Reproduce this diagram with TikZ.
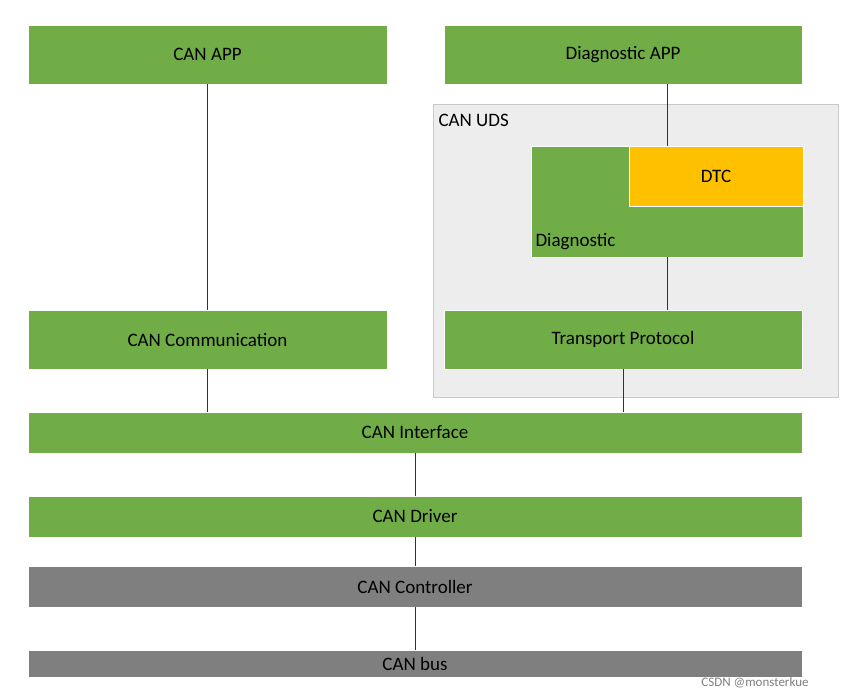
\documentclass[tikz,border=0pt]{standalone}
\usepackage{fontspec}
\setmainfont{Carlito}
\begin{document}
\definecolor{grn}{HTML}{70AD47}
\definecolor{org}{HTML}{FFC000}
\definecolor{gr}{HTML}{7F7F7F}
\definecolor{lg}{HTML}{EDEDED}
\definecolor{lgb}{HTML}{C9C9C9}
\begin{tikzpicture}[x=1pt,y=-1pt,
 box/.style={fill=grn,draw=white,line width=0.8pt},
 gbox/.style={fill=gr,draw=white,line width=0.8pt},
 lbl/.style={font=\fontsize{19}{22}\selectfont,text=black},
 ln/.style={draw=black!80,line width=0.7pt}]
\useasboundingbox (0,0) rectangle (841,699);
\fill[white] (0,0) rectangle (841,699);
\draw[fill=lg,draw=lgb] (433,104) rectangle (838,397);
\node[lbl,anchor=west] (udsl) at (435,120) {CAN UDS};
\draw[box] (28,25) rectangle (387,84); \coordinate (app) at (207,84);
\node[lbl] (a) at (207.5,54.5) {CAN APP};
\draw[box] (444,25) rectangle (802,84);
\node[lbl] (d) at (623,54.5) {Diagnostic APP};
\draw[box] (531,146) rectangle (803,257);
\draw[fill=org,draw=white,line width=0.8pt] (629,146) rectangle (803,206);
\node[lbl] (dtc) at (716,176) {DTC};
\node[lbl,anchor=west] (diag) at (532,242) {Diagnostic};
\draw[box] (28,310) rectangle (387,369);
\node[lbl] (cc) at (207.5,339.5) {CAN Communication};
\draw[box] (444,310) rectangle (802,369);
\node[lbl] (tp) at (623,339.5) {Transport Protocol};
\draw[box] (28,412) rectangle (802,453);
\node[lbl] (ci) at (415,432.5) {CAN Interface};
\draw[box] (28,496) rectangle (802,537);
\node[lbl] (cd) at (415,516.5) {CAN Driver};
\draw[gbox] (28,566) rectangle (802,607);
\node[lbl] (ctl) at (415,586.5) {CAN Controller};
\draw[gbox] (28,650) rectangle (802,677);
\node[lbl] (bus) at (415,663.5) {CAN bus};
\node[font=\fontsize{13}{15}\selectfont,text=gr] (wm) at (755,683) {CSDN @monsterkue};
\draw[ln] (207,84) -- (207,310);
\draw[ln] (207,369) -- (207,412);
\draw[ln] (667,84) -- (667,146);
\draw[ln] (667,257) -- (667,310);
\draw[ln] (623,369) -- (623,412);
\draw[ln] (415,453) -- (415,496);
\draw[ln] (415,537) -- (415,566);
\draw[ln] (415,607) -- (415,650);
\end{tikzpicture}
\end{document}
